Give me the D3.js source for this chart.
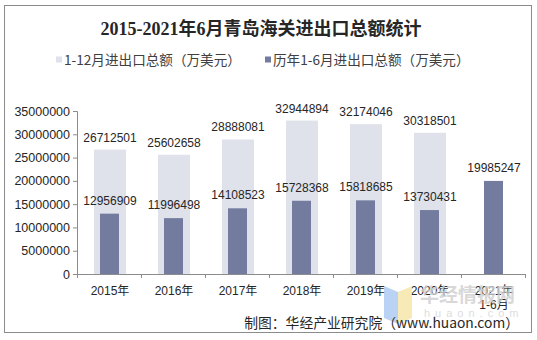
<!DOCTYPE html>
<html>
<head>
<meta charset="utf-8">
<script src="https://cdn.jsdelivr.net/npm/d3@7"></script>
<style>
  body { margin: 0; background: #fff; }
  text { font-family: "Liberation Sans", Arial, "Noto Sans CJK SC", sans-serif; fill: #262626; }
</style>
</head>
<body>
<div id="chart"></div>
<script>
var categories = ["2015年", "2016年", "2017年", "2018年", "2019年", "2020年", "2021年\n1-6月"];
var fullYear = [26712501, 25602658, 28888081, 32944894, 32174046, 30318501, null];
var firstHalf = [12956909, 11996498, 14108523, 15728368, 15818685, 13730431, 19985247];
var yTicks = [0, 5000000, 10000000, 15000000, 20000000, 25000000, 30000000, 35000000];
var seriesNames = ["1-12月进出口总额（万美元）", "历年1-6月进出口总额（万美元）"];

var W = 537, H = 340;
var colorLight = "#dfe2eb", colorDark = "#737c9f";

var svg = d3.select("#chart").append("svg")
  .attr("width", W).attr("height", H);

// outer frame
svg.append("rect")
  .attr("x", 4.5).attr("y", 5.5)
  .attr("width", 527).attr("height", 327)
  .attr("fill", "#fff").attr("stroke", "#8c8c8c");

svg.append("text")
  .attr("x", 261).attr("y", 35)
  .attr("text-anchor", "middle")
  .style("font-family", "'Liberation Serif', 'Noto Sans CJK SC', serif")
  .style("font-weight", "bold")
  .style("font-size", "18px")
  .style("fill", "#262626")
  .text("2015-2021年6月青岛海关进出口总额统计");

// legend
var legend = [
  { x: 56, color: colorLight, name: seriesNames[0] },
  { x: 265, color: colorDark, name: seriesNames[1] }
];
legend.forEach(function(l) {
  svg.append("rect").attr("x", l.x).attr("y", 56.5).attr("width", 6).attr("height", 6).attr("fill", l.color);
  svg.append("text").attr("x", l.x + 8).attr("y", 64.5)
    .style("font-size", "13.6px").style("fill", "#404040")
    .style("font-family", "'Noto Sans CJK SC', sans-serif")
    .text(l.name);
});

var x = d3.scaleBand().domain(categories).range([77, 525]).padding(0);
var y = d3.scaleLinear().domain([0, 35000000]).range([274, 111]);

var gy = svg.append("g")
  .attr("transform", "translate(77,0)")
  .call(d3.axisLeft(y).tickValues(yTicks).tickSize(4).tickPadding(3).tickFormat(d3.format("d")));
gy.select(".domain").attr("stroke", "#8c8c8c");
gy.selectAll(".tick line").attr("stroke", "#8c8c8c");
gy.selectAll(".tick text").style("font-size", "12.5px").style("fill", "#262626")
  .style("font-family", "'Liberation Sans', Arial, sans-serif");

var bw = x.bandwidth();

svg.selectAll(".barLight")
  .data(fullYear.map(function(v, i) { return { v: v, c: categories[i] }; }).filter(function(d) { return d.v != null; }))
  .enter().append("rect")
  .attr("class", "barLight")
  .attr("x", function(d) { return x(d.c) + bw / 2 - 15; })
  .attr("width", 32)
  .attr("y", function(d) { return y(d.v); })
  .attr("height", function(d) { return y(0) - y(d.v); })
  .attr("fill", colorLight);

svg.selectAll(".barDark")
  .data(firstHalf.map(function(v, i) { return { v: v, c: categories[i] }; }))
  .enter().append("rect")
  .attr("class", "barDark")
  .attr("x", function(d) { return x(d.c) + bw / 2 - 9; })
  .attr("width", 19)
  .attr("y", function(d) { return y(d.v); })
  .attr("height", function(d) { return y(0) - y(d.v); })
  .attr("fill", colorDark);

var gx = svg.append("g")
  .attr("transform", "translate(0,274)")
  .call(d3.axisBottom(x).tickSize(0).tickFormat(""));
gx.select(".domain").attr("stroke", "#8c8c8c");
// boundary ticks between categories
svg.selectAll(".bTick")
  .data(categories.concat(["end"]))
  .enter().append("line")
  .attr("x1", function(d, i) { return 77 + i * bw + 0.5; })
  .attr("x2", function(d, i) { return 77 + i * bw + 0.5; })
  .attr("y1", 274).attr("y2", 278)
  .attr("stroke", "#8c8c8c");

svg.selectAll(".xLabel")
  .data(categories)
  .enter().append("text")
  .attr("text-anchor", "middle")
  .attr("x", function(d) { return x(d) + bw / 2 + 1; })
  .attr("y", 295)
  .style("font-size", "12px")
  .each(function(d) {
    var lines = d.split("\n");
    var t = d3.select(this);
    lines.forEach(function(s, i) {
      t.append("tspan").attr("x", x(d) + bw / 2 + 1).attr("dy", i === 0 ? 0 : 14).text(s);
    });
  });

var fmt = d3.format("d");
svg.selectAll(".lblLight")
  .data(fullYear.map(function(v, i) { return { v: v, c: categories[i] }; }).filter(function(d) { return d.v != null; }))
  .enter().append("text")
  .attr("text-anchor", "middle")
  .attr("x", function(d) { return x(d.c) + bw / 2 + 1; })
  .attr("y", function(d) { return y(d.v) - 8; })
  .style("font-size", "12px")
  .text(function(d) { return fmt(d.v); });

svg.selectAll(".lblDark")
  .data(firstHalf.map(function(v, i) { return { v: v, c: categories[i] }; }))
  .enter().append("text")
  .attr("text-anchor", "middle")
  .attr("x", function(d) { return x(d.c) + bw / 2 + 1; })
  .attr("y", function(d) { return y(d.v) - 9; })
  .style("font-size", "12px")
  .text(function(d) { return fmt(d.v); });

// watermark
var wm = svg.append("g").attr("opacity", 0.8);
wm.append("path").attr("d", "M384,286 L398,292 L398,324 L384,318 Z").attr("fill", "#a9c9f2");
wm.append("path").attr("d", "M398,292 L412,286 L412,318 L398,324 Z").attr("fill", "#f6e6a6");
wm.append("text").attr("x", 420).attr("y", 302)
  .style("font-size", "19px").style("font-weight", "bold")
  .style("font-family", "'Noto Sans CJK SC', sans-serif")
  .style("fill", "#cfcfcf").text("华经情报网");
wm.append("text").attr("x", 424).attr("y", 317)
  .style("font-size", "11px").style("letter-spacing", "5px")
  .style("fill", "#d6d6d6").text("huaon.com");

svg.append("text")
  .attr("x", 519).attr("y", 328)
  .attr("text-anchor", "end")
  .style("font-size", "13.8px")
  .style("fill", "#262626")
  .style("font-family", "'Noto Sans CJK SC', sans-serif")
  .text("制图：华经产业研究院（www.huaon.com）");
</script>
</body>
</html>
